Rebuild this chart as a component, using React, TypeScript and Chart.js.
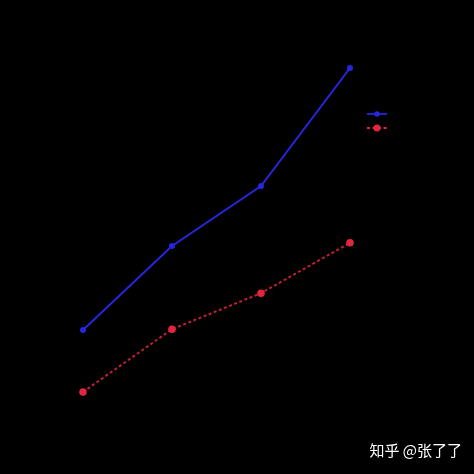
import React, { useEffect, useRef } from 'react';
import { Chart, registerables } from 'chart.js';

Chart.register(...registerables);

// x positions of the four samples
const xValues = [1, 2, 3, 4];
// series values
const blueValues = [10.5, 21.0, 28.5, 43.25];
const redValues = [2.75, 10.6, 15.1, 21.4];
const seriesLabels = ['y1', 'y2'];

const BLUE = 'rgb(38, 38, 222)';
const RED = 'rgb(226, 38, 62)';

// matplotlib-like legend: short line with the marker in the middle
const lineLegend = {
  id: 'lineLegend',
  afterDraw(chart: Chart) {
    const { ctx } = chart;
    const x0 = 367;
    const x1 = 387;
    const rows = [
      { y: 114, color: BLUE, dash: [] as number[], r: 2.8 },
      { y: 128, color: RED, dash: [3, 2.5], r: 3.6 },
    ];
    ctx.save();
    rows.forEach((row, i) => {
      ctx.strokeStyle = row.color;
      ctx.lineWidth = 1.8;
      ctx.setLineDash(row.dash);
      ctx.beginPath();
      ctx.moveTo(x0, row.y);
      ctx.lineTo(x1, row.y);
      ctx.stroke();
      ctx.setLineDash([]);
      ctx.fillStyle = row.color;
      ctx.beginPath();
      ctx.arc((x0 + x1) / 2, row.y, row.r, 0, Math.PI * 2);
      ctx.fill();
      ctx.fillStyle = '#000';
      ctx.font = '10px "DejaVu Sans"';
      ctx.textBaseline = 'middle';
      ctx.fillText(seriesLabels[i], x1 + 6, row.y);
    });
    ctx.restore();
  },
};

export default function App() {
  const canvasRef = useRef<HTMLCanvasElement | null>(null);

  useEffect(() => {
    document.body.style.margin = '0';
    document.body.style.background = '#000';
    if (!canvasRef.current) return;

    const chart = new Chart(canvasRef.current, {
      type: 'line',
      data: {
        datasets: [
          {
            label: seriesLabels[0],
            data: xValues.map((x, i) => ({ x, y: blueValues[i] })),
            borderColor: BLUE,
            backgroundColor: BLUE,
            borderWidth: 2,
            pointRadius: 3,
            pointBorderWidth: 0,
            tension: 0,
          },
          {
            label: seriesLabels[1],
            data: xValues.map((x, i) => ({ x, y: redValues[i] })),
            borderColor: 'rgba(226, 38, 62, 0.85)',
            backgroundColor: RED,
            borderWidth: 2,
            borderDash: [3, 2.5],
            pointRadius: 3.8,
            pointBorderWidth: 0,
            tension: 0,
          },
        ],
      },
      options: {
        animation: false,
        responsive: false,
        layout: { padding: { left: 60, right: 60, top: 50, bottom: 60 } },
        scales: {
          x: { type: 'linear', min: 0.7416, max: 4.719, display: false },
          y: { min: 0, max: 45.5, display: false },
        },
        plugins: {
          legend: { display: false },
          tooltip: { enabled: false },
        },
      },
      plugins: [lineLegend],
    });

    return () => chart.destroy();
  }, []);

  return (
    <div style={{ position: 'relative', width: 474, height: 474, background: '#000' }}>
      <canvas ref={canvasRef} width={474} height={474} />
      <div
        style={{
          position: 'absolute',
          right: 12,
          bottom: 14,
          color: '#fff',
          fontFamily: '"Noto Sans CJK SC", sans-serif',
          fontSize: 15,
        }}
      >
        知乎 @张了了
      </div>
    </div>
  );
}
